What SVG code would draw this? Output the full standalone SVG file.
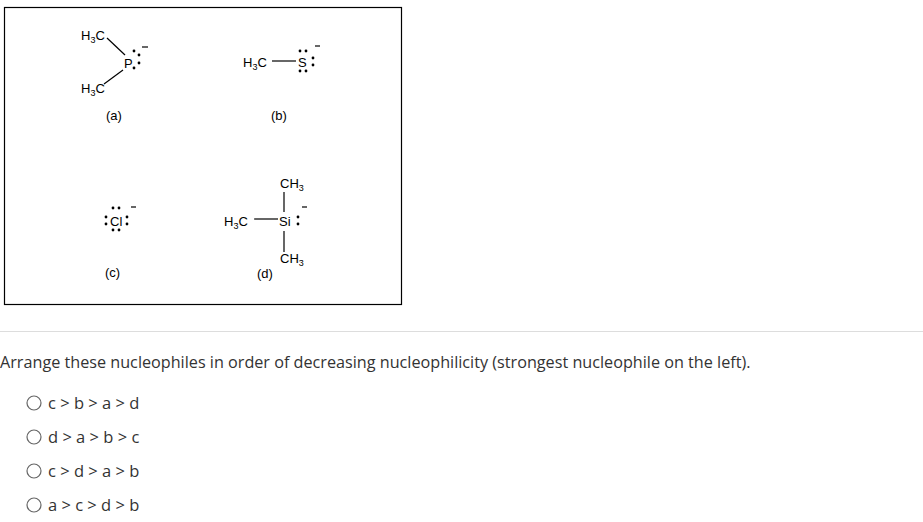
<svg xmlns="http://www.w3.org/2000/svg" width="923" height="522" viewBox="0 0 923 522">
<style>
.c{font-family:"Liberation Sans",Arial,sans-serif;font-size:13px;fill:#000}
.s{font-size:9px}
.b{stroke:#000;stroke-width:1.2;fill:none}
.q{font-family:"Open Sans","Noto Sans",sans-serif;font-size:16.2px;fill:#333}
.o{font-family:"Open Sans","Noto Sans",sans-serif;font-size:16.5px;fill:#333}
.r{fill:#fff;stroke:#666;stroke-width:1.2}
</style>
<defs><circle id="d" r="1.4" fill="#000"/></defs>
<rect width="923" height="522" fill="#fff"/>
<rect x="4.5" y="7.5" width="397" height="297" fill="#fff" stroke="#000" stroke-width="1.2"/>
<g id="a">
<text class="c" x="81" y="40">H<tspan class="s" dy="3">3</tspan><tspan dy="-3">C</tspan></text>
<text class="c" x="81" y="93">H<tspan class="s" dy="3">3</tspan><tspan dy="-3">C</tspan></text>
<text class="c" x="124" y="68">P</text>
<line class="b" x1="107" y1="38" x2="125" y2="55"/>
<line class="b" x1="123" y1="70" x2="104" y2="84"/>
<use href="#d" x="134" y="51"/><use href="#d" x="139" y="55"/><use href="#d" x="139" y="63"/><use href="#d" x="134" y="68"/>
<line class="b" x1="142" y1="47" x2="148" y2="47"/>
<text class="c" x="106" y="120">(a)</text>
</g>
<g id="b">
<text class="c" x="243" y="67">H<tspan class="s" dy="3">3</tspan><tspan dy="-3">C</tspan></text>
<line class="b" x1="272" y1="61" x2="296" y2="61"/>
<text class="c" x="298" y="67">S</text>
<use href="#d" x="300" y="51"/><use href="#d" x="306" y="51"/><use href="#d" x="300" y="71"/><use href="#d" x="306" y="71"/>
<use href="#d" x="313" y="58"/><use href="#d" x="313" y="65"/>
<line class="b" x1="315" y1="46" x2="320" y2="46"/>
<text class="c" x="271" y="120">(b)</text>
</g>
<g id="c">
<text class="c" x="110" y="226">Cl</text>
<use href="#d" x="106" y="217"/><use href="#d" x="106" y="224"/>
<use href="#d" x="113" y="208"/><use href="#d" x="119" y="208"/>
<use href="#d" x="113" y="230"/><use href="#d" x="119" y="230"/>
<use href="#d" x="127" y="217"/><use href="#d" x="127" y="224"/>
<line class="b" x1="131" y1="207" x2="136" y2="207"/>
<text class="c" x="105" y="277">(c)</text>
</g>
<g id="dd">
<text class="c" x="224" y="226">H<tspan class="s" dy="3">3</tspan><tspan dy="-3">C</tspan></text>
<line class="b" x1="254" y1="219" x2="278" y2="219"/>
<text class="c" x="279" y="226">Si</text>
<use href="#d" x="298" y="217"/><use href="#d" x="298" y="224"/>
<line class="b" x1="302" y1="207" x2="307" y2="207"/>
<text class="c" x="280" y="188">CH<tspan class="s" dy="3">3</tspan></text>
<line class="b" x1="284" y1="192" x2="284" y2="212"/>
<line class="b" x1="284" y1="231" x2="284" y2="252"/>
<text class="c" x="280" y="263">CH<tspan class="s" dy="3">3</tspan></text>
<text class="c" x="257" y="278">(d)</text>
</g>
<line x1="0" y1="331.5" x2="923" y2="331.5" stroke="#ddd"/>
<text class="q" x="0" y="368">Arrange these nucleophiles in order of decreasing nucleophilicity (strongest nucleophile on the left).</text>
<circle class="r" cx="34" cy="403" r="7"/><text class="o" x="48" y="409">c &gt; b &gt; a &gt; d</text>
<circle class="r" cx="34" cy="437" r="7"/><text class="o" x="48" y="443">d &gt; a &gt; b &gt; c</text>
<circle class="r" cx="34" cy="471" r="7"/><text class="o" x="48" y="477">c &gt; d &gt; a &gt; b</text>
<circle class="r" cx="34" cy="505" r="7"/><text class="o" x="48" y="511">a &gt; c &gt; d &gt; b</text>
</svg>
